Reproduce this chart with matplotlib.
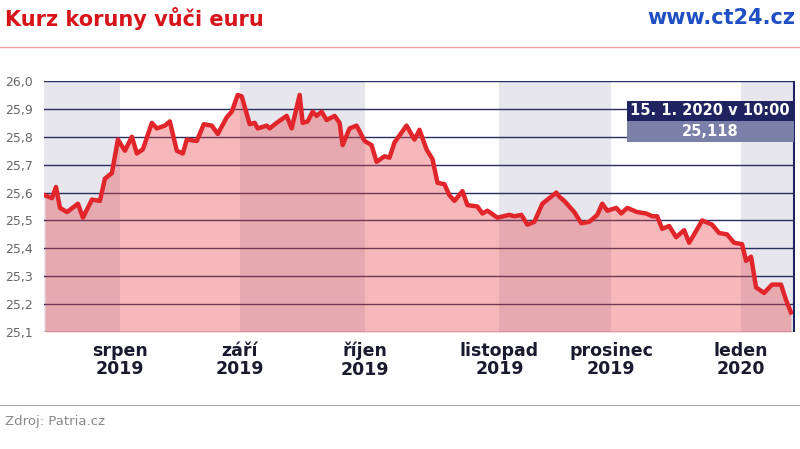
import matplotlib
matplotlib.use("Agg")
import matplotlib.pyplot as plt
from matplotlib.patches import Rectangle

# time position (chart time units) and EUR/CZK values
t = [45,52,56,60,67,78,83,92,100,105,112,118,125,132,137,143,152,157,165,170,177,183,187,197,204,212,218,227,232,238,242,250,255,258,267,270,277,287,292,
     300,303,308,313,317,322,327,335,340,343,350,357,365,372,377,385,390,395,407,415,420,427,433,438,445,450,455,463,468,478,483,488,498,510,515,522,528,535,543,550,557,560,
     565,575,582,590,598,603,608,617,622,628,638,647,653,658,663,670,677,685,690,695,703,713,720,728,735,743,747,752,757,765,773,782,787,792]
v = [25.59,25.58,25.62,25.545,25.53,25.56,25.51,25.575,25.57,25.65,25.67,25.79,25.75,25.80,25.74,25.755,25.85,25.83,25.84,25.855,25.75,25.74,25.79,25.785,25.845,25.84,25.81,25.87,25.89,25.95,25.945,25.845,25.85,25.83,25.84,25.83,25.85,25.875,25.83,
     25.95,25.85,25.855,25.89,25.875,25.89,25.86,25.875,25.85,25.77,25.83,25.84,25.785,25.77,25.71,25.73,25.725,25.78,25.84,25.79,25.825,25.755,25.72,25.635,25.63,25.59,25.57,25.605,25.555,25.55,25.525,25.535,25.51,25.52,25.515,25.52,25.485,25.495,25.56,25.58,25.60,25.585,
     25.57,25.53,25.49,25.495,25.52,25.56,25.535,25.545,25.525,25.545,25.53,25.525,25.515,25.515,25.47,25.48,25.44,25.465,25.42,25.45,25.50,25.485,25.455,25.45,25.42,25.415,25.355,25.37,25.26,25.24,25.27,25.27,25.215,25.17]

month_starts = [44, 120, 240, 365, 500, 612, 742, 795]
month_labels = ["srpen\n2019", "září\n2019", "říjen\n2019", "listopad\n2019", "prosinec\n2019", "leden\n2020"]
yticks = [25.1, 25.2, 25.3, 25.4, 25.5, 25.6, 25.7, 25.8, 25.9, 26.0]
tip_date = "15. 1. 2020 v 10:00"
tip_value = "25,118"

fig = plt.figure(figsize=(8, 4.49), dpi=100)
ax = fig.add_axes([44/800, 1-332/449, (795-44)/800, (332-81)/449])
for i in range(len(month_starts)-1):
    if i % 2 == 0:
        ax.axvspan(month_starts[i], month_starts[i+1], color="#e6e6ec", lw=0, zorder=0)
for yt in yticks:
    ax.axhline(yt, color="#2b2d5e", lw=1, zorder=1)
ax.fill_between(t, v, 25.1, color="#e8464e", alpha=0.38, lw=0, zorder=2)
ax.plot(t, v, color="#e0252b", lw=3.2, zorder=3, solid_joinstyle="round")
ax.axvline(795, color="#1f2360", lw=1.5, zorder=4)
ax.set_xlim(44, 796)
ax.set_ylim(25.1, 26.0)
ax.set_yticks(yticks)
ax.set_yticklabels([f"{a:.1f}".replace(".", ",") for a in yticks], color="#666666", fontsize=9)
ax.set_xticks(month_starts[1:-1])
ax.set_xticklabels(month_labels, fontsize=12.5, fontweight="bold", color="#1a1a2e", linespacing=1.05)
ax.tick_params(length=0, axis="both")
ax.tick_params(axis="y", pad=8)
ax.tick_params(axis="x", pad=7)
for s in ax.spines.values():
    s.set_visible(False)

# tooltip
ax.add_patch(Rectangle((628, 25.857), 167, 0.072, fc="#1f2360", ec="none", zorder=6, clip_on=False))
ax.add_patch(Rectangle((628, 25.782), 167, 0.073, fc="#7a80a8", ec="none", zorder=6, clip_on=False))
ax.text(711, 25.893, tip_date, ha="center", va="center", color="white", fontsize=10.5, fontweight="bold", zorder=7)
ax.text(711, 25.818, tip_value, ha="center", va="center", color="white", fontsize=10.5, fontweight="bold", zorder=7)

fig.text(5/800, 1-18/449, "Kurz koruny vůči euru", color="#d7141a", fontsize=15, fontweight="bold", va="center")
fig.text(795/800, 1-18/449, "www.ct24.cz", color="#1f4fc2", fontsize=15, fontweight="bold", va="center", ha="right")
fig.add_artist(plt.Line2D([0, 1], [1-47/449]*2, color="#f0a0a0", lw=1))
fig.add_artist(plt.Line2D([0, 1], [1-405/449]*2, color="#aaaaaa", lw=0.8))
fig.text(5/800, 1-422/449, "Zdroj: Patria.cz", color="#888888", fontsize=9.5, va="center")
fig.savefig("out.png", dpi=100)
